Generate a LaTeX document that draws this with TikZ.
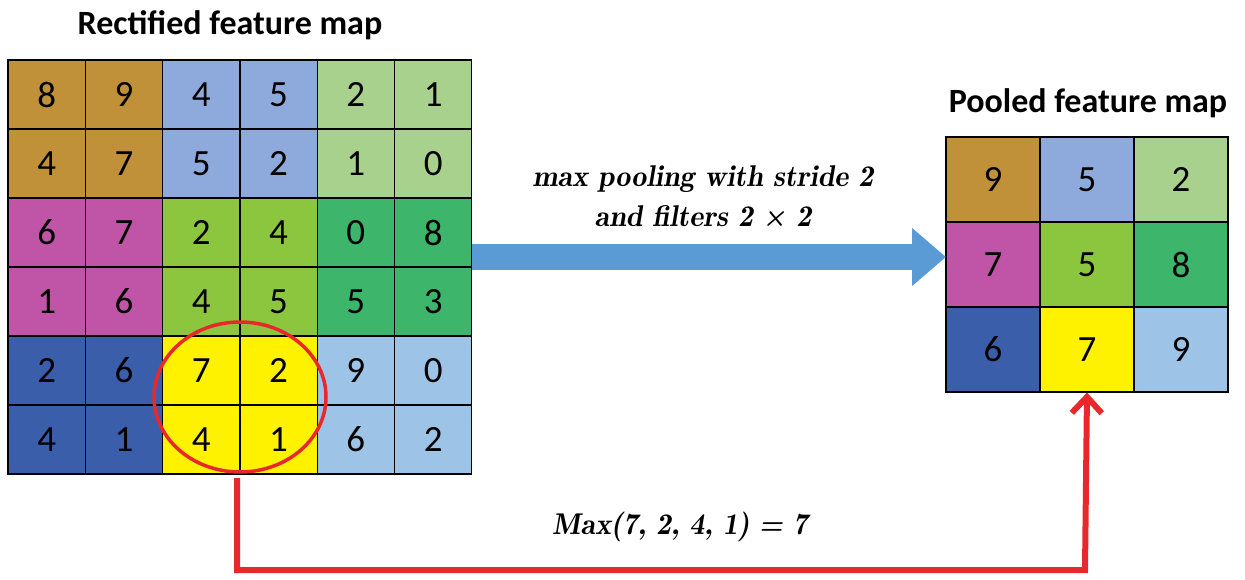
\documentclass[tikz,border=0pt]{standalone}
\usepackage{fontspec}
\setmainfont{Carlito}
\usetikzlibrary{arrows.meta,shapes.geometric}
\definecolor{cbr}{HTML}{C1913A}
\definecolor{clv}{HTML}{8EA9DB}
\definecolor{clg}{HTML}{A9D18E}
\definecolor{cmg}{HTML}{C055A8}
\definecolor{cgr}{HTML}{8CC63F}
\definecolor{cdg}{HTML}{3DB56A}
\definecolor{cdb}{HTML}{3B5EAB}
\definecolor{cye}{HTML}{FFF200}
\definecolor{clb}{HTML}{9DC3E6}
\definecolor{carr}{HTML}{5B9BD5}
\definecolor{cred}{HTML}{E8282B}
\tikzset{cell/.style={draw=black,line width=1.2pt,inner sep=0pt,font=\fontsize{37}{37}\selectfont},
 ttl/.style={font=\fontsize{34}{34}\selectfont\bfseries},
 mth/.style={font=\fontsize{30}{40}\selectfont\usefont{TU}{lmr}{b}{it},align=center}}
\begin{document}
\begin{tikzpicture}[x=1pt,y=-1pt]
\useasboundingbox (0,0) rectangle (1245,580);
\def\cw{77.3}\def\ch{69}
\foreach \r/\row in {0/{8/cbr,9/cbr,4/clv,5/clv,2/clg,1/clg},1/{4/cbr,7/cbr,5/clv,2/clv,1/clg,0/clg},2/{6/cmg,7/cmg,2/cgr,4/cgr,0/cdg,8/cdg},3/{1/cmg,6/cmg,4/cgr,5/cgr,5/cdg,3/cdg},4/{2/cdb,6/cdb,7/cye,2/cye,9/clb,0/clb},5/{4/cdb,1/cdb,4/cye,1/cye,6/clb,2/clb}}{
 \foreach [count=\c from 0] \v/\col in \row {
  \node[cell,fill=\col,minimum width=\cw pt,minimum height=\ch pt] (L\r\c) at ({8+\cw*(\c+0.5)},{60+\ch*(\r+0.5)}) {\v};
 }}
\def\pw{94}\def\ph{85}
\foreach \r/\row in {0/{9/cbr,5/clv,2/clg},1/{7/cmg,5/cgr,8/cdg},2/{6/cdb,7/cye,9/clb}}{
 \foreach [count=\c from 0] \v/\col in \row {
  \node[cell,fill=\col,minimum width=\pw pt,minimum height=\ph pt] (P\r\c) at ({946+\pw*(\c+0.5)},{137+\ph*(\r+0.5)}) {\v};
 }}
\node[ttl] (t1) at (230,25) {Rectified feature map};
\node[ttl] (t2) at (1088,103) {Pooled feature map};
\coordinate (a1) at (472,257);
\coordinate (a2) at (946,257);
\draw[carr,line width=26pt,-{Triangle[length=34pt,width=56pt]}] (a1) -- (a2);
\node[mth] (lab) at (703,196) {max pooling with stride 2\\and filters 2 × 2};
\node[draw=cred,line width=3.5pt,ellipse,minimum width=172pt,minimum height=150pt] (el) at (240,397) {};
\coordinate (b1) at (237,570);
\coordinate (b2) at (1085,570);
\draw[cred,line width=6pt,-{Straight Barb[length=16pt,width=30pt]}] (237,478) -- (b1) -- (b2) -- (P21.south);
\node[mth] (mx) at (680,527) {Max(7, 2, 4, 1) = 7};
\end{tikzpicture}
\end{document}
